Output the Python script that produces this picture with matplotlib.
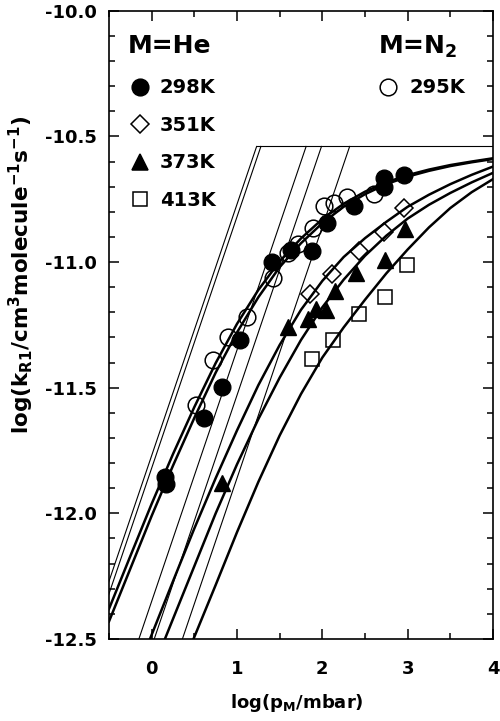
import matplotlib
matplotlib.use('Agg')
import matplotlib.pyplot as plt
from matplotlib.ticker import MultipleLocator, FormatStrFormatter

plt.rcParams['font.family'] = ['DejaVu Sans']
plt.rcParams['font.weight'] = 'bold'
plt.rcParams['axes.labelweight'] = 'bold'
plt.rcParams['mathtext.default'] = 'bf'

# measured rate constants, log(k) vs log(p)
he298_x = [0.16, 0.17, 0.61, 0.83, 1.03, 1.41, 1.63, 1.88, 2.06, 2.37, 2.72, 2.72, 2.96]
he298_y = [-11.855, -11.885, -11.62, -11.497, -11.31, -11.0, -10.953, -10.955, -10.845, -10.778, -10.667, -10.70, -10.654]

n2295_x = [0.52, 0.72, 0.90, 1.12, 1.42, 1.60, 1.72, 1.89, 2.02, 2.14, 2.29, 2.60]
n2295_y = [-11.567, -11.388, -11.30, -11.217, -11.062, -10.962, -10.93, -10.865, -10.777, -10.767, -10.741, -10.73]

he351_x = [1.86, 2.11, 2.43, 2.72, 2.96]
he351_y = [-11.128, -11.047, -10.958, -10.879, -10.785]

he373_x = [0.83, 1.60, 1.83, 1.92, 2.04, 2.15, 2.39, 2.74, 2.97]
he373_y = [-11.878, -11.258, -11.228, -11.188, -11.19, -11.115, -11.042, -10.99, -10.87]

he413_x = [1.88, 2.12, 2.43, 2.73, 2.99]
he413_y = [-11.387, -11.31, -11.208, -11.138, -11.01]

# low pressure limits (thin lines) and high pressure limit
k0_x_lo = [-1.27, -1.22, -0.69, -0.51, -0.18]
k0_x_hi = [1.23, 1.28, 1.81, 1.99, 2.32]
k0_y_lo = [-13.04, -13.04, -13.04, -13.04, -13.04]
kinf = -10.54
kinf_x = [1.23, 4.0]

# falloff fit curves
fit_x = [-0.5, -0.25, 0, 0.25, 0.5, 0.75, 1.0, 1.25, 1.5, 1.75, 2.0, 2.25, 2.5, 2.75, 3.0, 3.25, 3.5, 3.75, 4.0]
fit_he298 = [-12.43, -12.22, -12.01, -11.81, -11.62, -11.44, -11.28, -11.14, -11.02, -10.925, -10.845,
             -10.78, -10.73, -10.69, -10.66, -10.637, -10.618, -10.603, -10.59]
fit_n2295 = [-12.38, -12.17, -11.962, -11.764, -11.577, -11.402, -11.246, -11.111, -10.997, -10.906, -10.829,
             -10.768, -10.72, -10.683, -10.654, -10.632, -10.614, -10.60, -10.587]

fit351_x = [-0.02, 0.25, 0.5, 0.75, 1.0, 1.25, 1.5, 1.75, 2.0, 2.25, 2.5, 2.75, 3.0, 3.25, 3.5, 3.75, 4.0]
fit351_y = [-12.50, -12.27, -12.06, -11.86, -11.67, -11.49, -11.33, -11.19, -11.075, -10.98, -10.905,
            -10.84, -10.78, -10.732, -10.69, -10.653, -10.62]

fit373_x = [0.155, 0.25, 0.5, 0.75, 1.0, 1.25, 1.5, 1.75, 2.0, 2.25, 2.5, 2.75, 3.0, 3.25, 3.5, 3.75, 4.0]
fit373_y = [-12.50, -12.42, -12.21, -12.0, -11.805, -11.625, -11.46, -11.31, -11.18, -11.07, -10.975,
            -10.895, -10.827, -10.772, -10.725, -10.683, -10.645]

fit413_x = [0.49, 0.75, 1.0, 1.25, 1.5, 1.75, 2.0, 2.25, 2.5, 2.75, 3.0, 3.25, 3.5, 3.75, 4.0]
fit413_y = [-12.50, -12.285, -12.075, -11.875, -11.69, -11.525, -11.38, -11.26, -11.15, -11.045,
            -10.95, -10.862, -10.785, -10.722, -10.67]

fig = plt.figure(figsize=(5, 7.21), dpi=100)
ax = fig.add_axes([0.218, 0.1137, 0.768, 0.8714])

# thin limit lines
for i in range(len(k0_x_hi)):
    ax.plot([k0_x_lo[i], k0_x_hi[i]], [k0_y_lo[i], kinf], color='black', lw=0.8, zorder=2)
ax.plot(kinf_x, [kinf, kinf], color='black', lw=0.8, zorder=2)

# fit curves
for cx, cy in [(fit_x, fit_he298), (fit_x, fit_n2295), (fit351_x, fit351_y),
               (fit373_x, fit373_y), (fit413_x, fit413_y)]:
    ax.plot(cx, cy, color='black', lw=1.8, zorder=3)

# data points
ax.plot(he298_x, he298_y, 'o', ms=12, mfc='black', mec='black', zorder=5)
ax.plot(n2295_x, n2295_y, 'o', ms=12, mfc='none', mec='black', mew=1.1, zorder=5)
ax.plot(he351_x, he351_y, 'D', ms=9, mfc='none', mec='black', mew=1.1, zorder=5)
ax.plot(he373_x, he373_y, '^', ms=12, mfc='black', mec='black', zorder=5)
ax.plot(he413_x, he413_y, 's', ms=10.5, mfc='none', mec='black', mew=1.1, zorder=5)

# legend block
ax.text(0.048, 0.9322, 'M=He', transform=ax.transAxes, fontsize=18, ha='left', va='baseline')
ax.text(0.701, 0.9322, 'M=N$_2$', transform=ax.transAxes, fontsize=18, ha='left', va='baseline')
leg_rows = [('o', 'black', 12, '298K'), ('D', 'none', 9, '351K'),
            ('^', 'black', 12, '373K'), ('s', 'none', 10.5, '413K')]
for i, (mk, fc, ms, lab) in enumerate(leg_rows):
    yc = 0.8791 - i * 0.0597
    ax.plot([0.0804], [yc], mk, ms=ms, mfc=fc, mec='black', mew=1.1,
            transform=ax.transAxes, clip_on=False)
    ax.text(0.1325, yc - 0.0103, lab, transform=ax.transAxes, fontsize=14, va='baseline')
ax.plot([0.726], [0.8791], 'o', ms=12, mfc='none', mec='black', mew=1.1,
        transform=ax.transAxes, clip_on=False)
ax.text(0.782, 0.8791 - 0.0103, '295K', transform=ax.transAxes, fontsize=14, va='baseline')

ax.set_xlim(-0.5, 4)
ax.set_ylim(-12.5, -10.0)
ax.xaxis.set_major_locator(MultipleLocator(1))
ax.xaxis.set_minor_locator(MultipleLocator(0.5))
ax.yaxis.set_major_locator(MultipleLocator(0.5))
ax.yaxis.set_minor_locator(MultipleLocator(0.1))
ax.xaxis.set_major_formatter(FormatStrFormatter('%d'))
ax.yaxis.set_major_formatter(FormatStrFormatter('%.1f'))

ax.tick_params(which='both', direction='in', top=True, right=True, width=1.1)
ax.tick_params(which='major', length=7, labelsize=13)
ax.tick_params(which='minor', length=4)
ax.tick_params(axis='x', which='major', pad=15)
ax.tick_params(axis='y', which='major', pad=8.5)
for sp in ax.spines.values():
    sp.set_linewidth(1.2)

ax.set_xlabel('log(p$_M$/mbar)', fontsize=13, fontweight='bold')
ax.xaxis.set_label_coords(0.49, -0.085)
ax.set_ylabel('log(k$_{R1}$/cm$^3$molecule$^{-1}$s$^{-1}$)', fontsize=15.5, fontweight='bold')
ax.yaxis.set_label_coords(-0.19, 0.58)

fig.savefig('out.png', dpi=100)
